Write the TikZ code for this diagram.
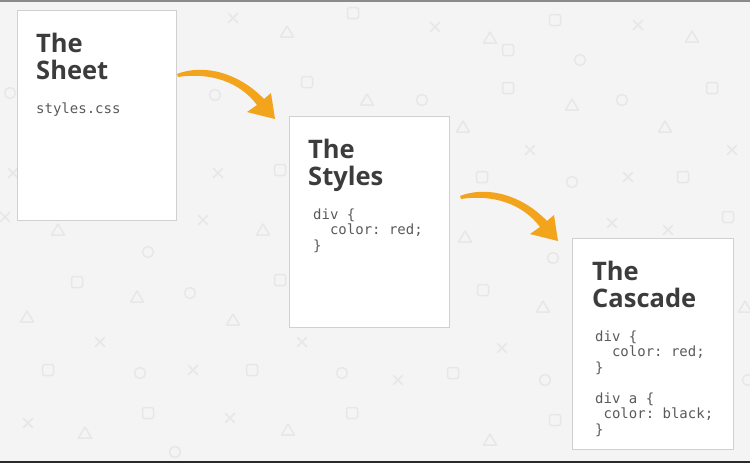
\documentclass[tikz,border=0pt]{standalone}
\usepackage{fontspec}
\usetikzlibrary{calc}
\setmainfont{Open Sans}
\newfontfamily\titlefont{Open Sans}
\newfontfamily\codefont{DejaVu Sans Mono}
\definecolor{bgcol}{HTML}{F4F4F4}
\definecolor{symcol}{HTML}{E7E7E7}
\definecolor{cardline}{HTML}{D0D0D0}
\definecolor{titlecol}{HTML}{3C3C3C}
\definecolor{codecol}{HTML}{5A5A5A}
\definecolor{arrowcol}{HTML}{F2A41D}
\definecolor{topline}{HTML}{8A8A8A}
\definecolor{botline}{HTML}{2A2A2A}
\tikzset{
  symline/.style={draw=symcol, line width=1.5pt, line join=round, line cap=round},
  symx/.pic={\draw[symline] (-4.5,-4.5)--(4.5,4.5) (-4.5,4.5)--(4.5,-4.5);},
  symt/.pic={\draw[symline] (0,-6)--(6.5,5)--(-6.5,5)--cycle;},
  symo/.pic={\draw[symline] (0,0) circle (5.5);},
  syms/.pic={\draw[symline, rounded corners=1.5pt] (-5.5,-5.5) rectangle (5.5,5.5);},
  card/.style={draw=cardline, fill=white, line width=1pt, anchor=north west, inner sep=0pt,
    minimum width=160pt, minimum height=211pt},
  titletext/.style={font=\titlefont\bfseries\fontsize{25.5}{28}\selectfont, text=titlecol,
    anchor=base west, inner sep=0pt},
  codetext/.style={font=\codefont\frenchspacing\fontsize{14}{15.5}\selectfont, text=codecol,
    anchor=base west, inner sep=0pt},
  cssarrow/.style={fill=arrowcol, draw=none}
}
\newcommand{\curvedarrow}[1]{%
  \begin{scope}[shift={($(#1.north west)+(-14,3)$)}]
    \fill[cssarrow] (-98,-45) .. controls (-70,-56) and (-35,-45) .. (-11,-20)
      -- (-4,-26) -- (0,0) -- (-28,-7) -- (-18,-14)
      .. controls (-35,-37) and (-65,-47) .. (-97,-42) -- cycle;
  \end{scope}}
\begin{document}
\begin{tikzpicture}[x=1pt,y=-1pt]
\useasboundingbox (0,0) rectangle (750,463);
\fill[bgcol] (0,0) rectangle (750,463);
% background pattern
\foreach \px/\py in {233/18,218/173,13/173,203/220,100/342,302/342,193/370,28/423,230/418,5/217,
  435/27,638/25,530/150,732/150,628/177,612/223,668/230,502/348,398/380}
  \pic at (\px,\py) {symx};
\foreach \px/\py in {287/32,367/100,58/230,263/230,137/297,27/317,233/320,85/433,288/430,
  490/38,692/37,572/105,463/127,665/127,465/237,543/307,490/440,745/307}
  \pic at (\px,\py) {symt};
\foreach \px/\py in {215/95,10/93,148/252,190/293,140/373,342/373,175/452,
  580/60,422/100,622/100,572/182,553/258,545/380,748/380}
  \pic at (\px,\py) {symo};
\foreach \px/\py in {353/13,307/82,280/170,77/282,280/280,48/370,252/370,148/413,352/413,
  508/50,555/20,508/88,712/88,482/177,683/177,728/217,483/290,453/373,555/420}
  \pic at (\px,\py) {syms};
% frame lines
\fill[topline] (0,0) rectangle (750,1.5);
\fill[botline] (0,460.8) rectangle (750,463);
% cards
\node[card, minimum width=159pt, minimum height=210pt] (b1) at (17,10) {};
\node[card] (b2) at (289,116) {};
\node[card, minimum width=161pt] (b3) at (572,238) {};
% card 1
\node[titletext] (t1a) at ($(b1.north west)+(19,42)$) {The};
\node[titletext] (t1b) at ($(b1.north west)+(19,69.5)$) {Sheet};
\node[codetext] (c1a) at ($(b1.north west)+(19,103)$) {styles.css};
% card 2
\node[titletext] (t2a) at ($(b2.north west)+(19,42)$) {The};
\node[titletext] (t2b) at ($(b2.north west)+(19,69.5)$) {Styles};
\node[codetext] (c2a) at ($(b2.north west)+(24,103)$) {div \{};
\node[codetext] (c2b) at ($(b2.north west)+(24,118.5)$) {\hphantom{xx}color: red;};
\node[codetext] (c2c) at ($(b2.north west)+(24,134)$) {\}};
% card 3
\node[titletext] (t3a) at ($(b3.north west)+(20,42)$) {The};
\node[titletext] (t3b) at ($(b3.north west)+(20,69.5)$) {Cascade};
\node[codetext] (c3a) at ($(b3.north west)+(23,103)$) {div \{};
\node[codetext] (c3b) at ($(b3.north west)+(23,118.5)$) {\hphantom{xx}color: red;};
\node[codetext] (c3c) at ($(b3.north west)+(23,134)$) {\}};
\node[codetext] (c3d) at ($(b3.north west)+(23,165)$) {div a \{};
\node[codetext] (c3e) at ($(b3.north west)+(23,180.5)$) {\hphantom{x}color: black;};
\node[codetext] (c3f) at ($(b3.north west)+(23,196)$) {\}};
% arrows
\curvedarrow{b2}
\curvedarrow{b3}
\end{tikzpicture}
\end{document}
